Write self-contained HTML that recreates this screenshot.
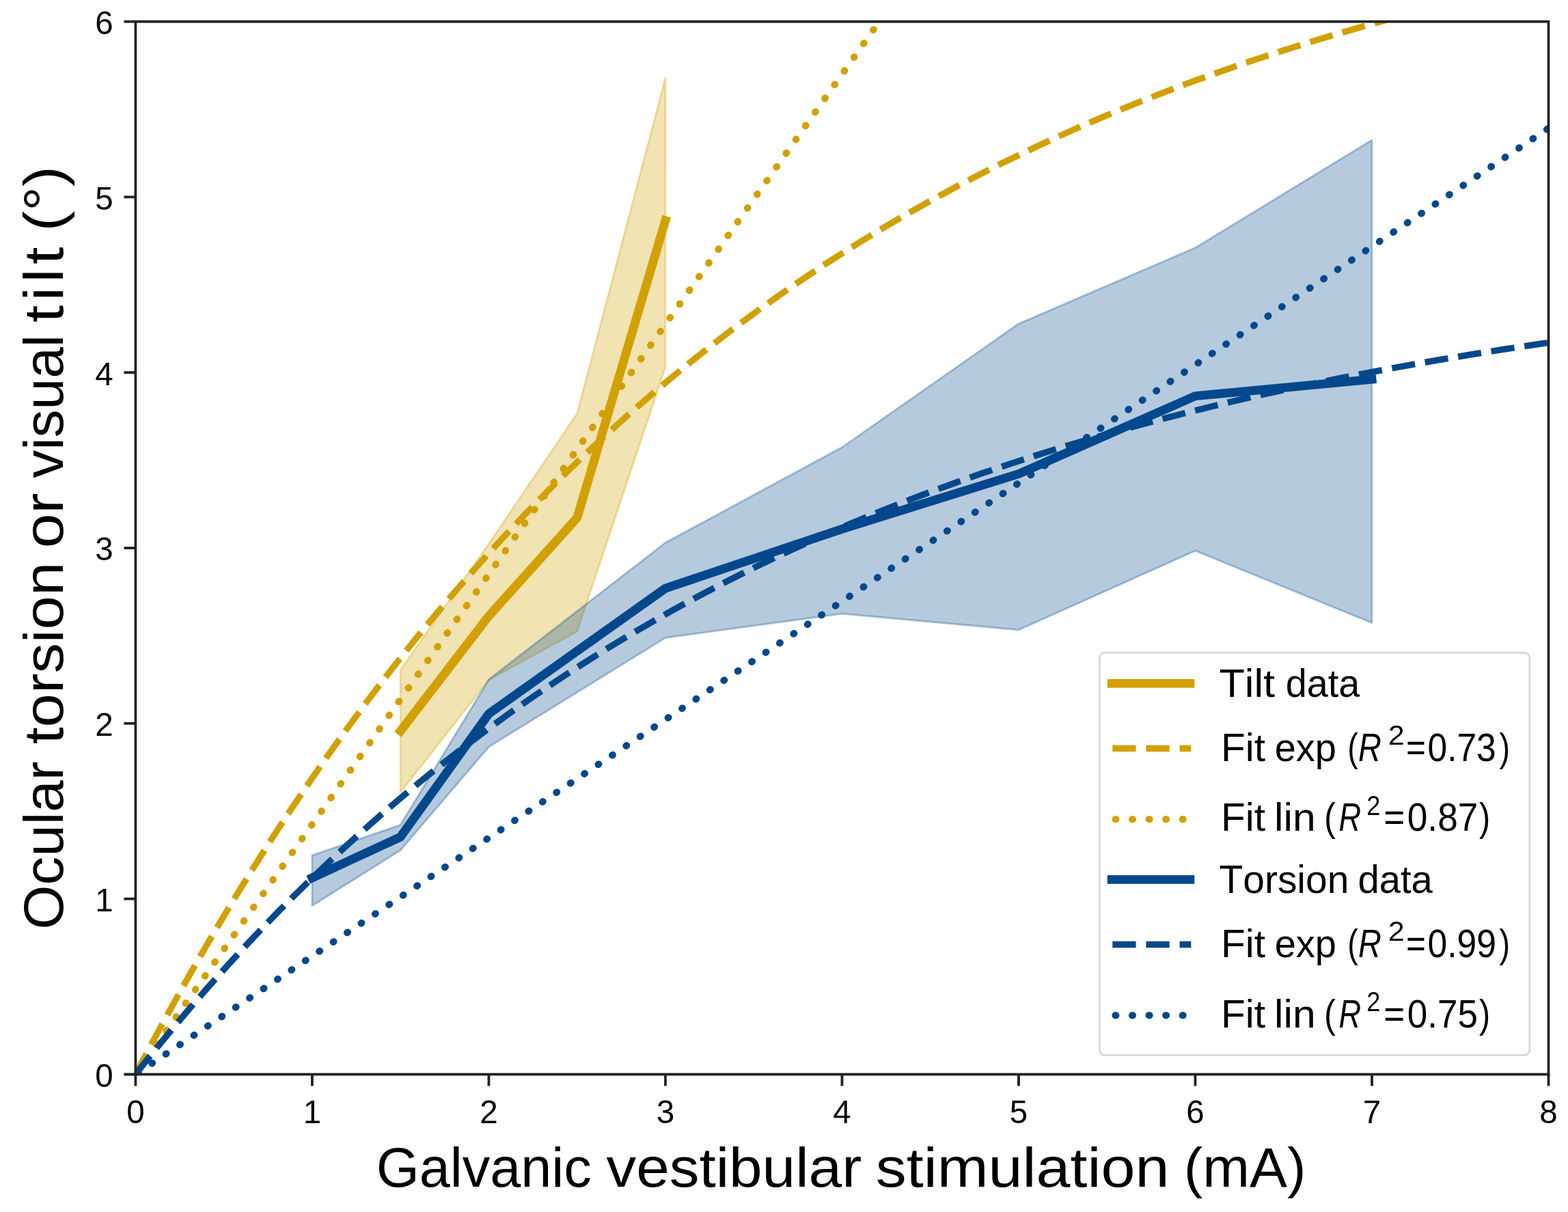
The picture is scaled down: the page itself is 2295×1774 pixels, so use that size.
<!DOCTYPE html><html><head><meta charset="utf-8"><title>Galvanic vestibular stimulation</title><style>html,body{margin:0;padding:0;background:#fff;overflow:hidden;width:2295px;height:1774px;}svg{display:block;}text{font-family:"Liberation Sans",Arial,sans-serif;fill:#000000;font-kerning:none;}</style></head><body><svg width="2295" height="1774" viewBox="0 0 2295 1774"><rect width="2295" height="1774" fill="#fff"/><defs><clipPath id="ax"><rect x="198.4" y="31.6" width="2068.1" height="1540.9"/></clipPath></defs><g clip-path="url(#ax)"><polygon points="586.17,980.28 715.42,795.89 844.68,605.33 973.94,113.78 973.94,537.53 844.68,924.29 715.42,995.18 586.17,1159.8" fill="#D2A100" fill-opacity="0.3" stroke="#D2A100" stroke-opacity="0.3" stroke-width="3" stroke-linejoin="round"/><polygon points="456.91,1251.99 586.17,1207.31 715.42,994.66 973.94,794.35 1232.45,654.64 1490.96,473.84 1749.47,362.64 2007.99,204.95 2007.99,911.71 1749.47,806.16 1490.96,921.98 1232.45,898.36 973.94,933.54 715.42,1093.28 586.17,1244.55 456.91,1325.7" fill="#03488C" fill-opacity="0.29" stroke="#03488C" stroke-opacity="0.29" stroke-width="3" stroke-linejoin="round"/><polyline points="586.17,1069.91 715.42,901.69 844.68,757.88 973.94,322.83" stroke="#D2A100" stroke-width="12.9" stroke-linecap="square" fill="none" stroke-linejoin="round"/><polyline points="198.4,1572.5 211.33,1547.86 224.25,1523.56 237.18,1499.59 250.1,1475.96 263.03,1452.64 275.95,1429.64 288.88,1406.96 301.81,1384.6 314.73,1362.53 327.66,1340.77 340.58,1319.31 353.51,1298.14 366.43,1277.26 379.36,1256.67 392.28,1236.36 405.21,1216.33 418.14,1196.57 431.06,1177.09 443.99,1157.87 456.91,1138.91 469.84,1120.22 482.76,1101.78 495.69,1083.59 508.62,1065.65 521.54,1047.96 534.47,1030.51 547.39,1013.3 560.32,996.33 573.24,979.59 586.17,963.08 599.09,946.79 612.02,930.73 624.95,914.88 637.87,899.26 650.8,883.85 663.72,868.65 676.65,853.66 689.57,838.87 702.5,824.29 715.42,809.9 728.35,795.72 741.28,781.72 754.2,767.92 767.13,754.31 780.05,740.89 792.98,727.65 805.9,714.59 818.83,701.71 831.76,689 844.68,676.47 857.61,664.12 870.53,651.93 883.46,639.91 896.38,628.05 909.31,616.36 922.23,604.82 935.16,593.45 948.09,582.23 961.01,571.16 973.94,560.25 986.86,549.48 999.79,538.86 1012.71,528.39 1025.64,518.06 1038.57,507.88 1051.49,497.83 1064.42,487.92 1077.34,478.15 1090.27,468.51 1103.19,459 1116.12,449.62 1129.05,440.37 1141.97,431.25 1154.9,422.25 1167.82,413.38 1180.75,404.63 1193.67,396 1206.6,387.48 1219.52,379.08 1232.45,370.8 1245.38,362.63 1258.3,354.58 1271.23,346.63 1284.15,338.79 1297.08,331.06 1310,323.44 1322.93,315.92 1335.86,308.5 1348.78,301.19 1361.71,293.97 1374.63,286.86 1387.56,279.84 1400.48,272.92 1413.41,266.09 1426.33,259.36 1439.26,252.72 1452.19,246.17 1465.11,239.71 1478.04,233.33 1490.96,227.05 1503.89,220.85 1516.81,214.74 1529.74,208.71 1542.67,202.76 1555.59,196.9 1568.52,191.11 1581.44,185.41 1594.37,179.78 1607.29,174.23 1620.22,168.75 1633.14,163.35 1646.07,158.03 1659,152.78 1671.92,147.59 1684.85,142.49 1697.77,137.45 1710.7,132.48 1723.62,127.57 1736.55,122.74 1749.47,117.97 1762.4,113.27 1775.33,108.63 1788.25,104.05 1801.18,99.54 1814.1,95.09 1827.03,90.7 1839.95,86.37 1852.88,82.1 1865.81,77.89 1878.73,73.73 1891.66,69.64 1904.58,65.59 1917.51,61.61 1930.43,57.68 1943.36,53.8 1956.28,49.98 1969.21,46.2 1982.14,42.48 1995.06,38.82 2007.99,35.2 2020.91,31.63 2033.84,28.11 2046.76,24.64 2059.69,21.21 2072.62,17.83 2085.54,14.5 2098.47,11.22 2111.39,7.98 2124.32,4.78 2137.24,1.63 2150.17,-1.48 2163.09,-4.55 2176.02,-7.57 2188.95,-10.55 2201.87,-13.49 2214.8,-16.4 2227.72,-19.26 2240.65,-22.08 2253.57,-24.87 2266.5,-27.61" stroke="#D2A100" stroke-width="9.27" stroke-dasharray="34.3 14.83" fill="none" stroke-linejoin="round"/><polyline points="198.4,1572.5 2266.5,-1355.21" stroke="#D2A100" stroke-width="10.30" stroke-dasharray="0.80 23.77" stroke-dashoffset="20.331" stroke-linecap="round" fill="none" stroke-linejoin="round"/><polyline points="456.91,1284.87 586.17,1225.03 715.42,1044.74 973.94,861.12 1232.45,774.31 1490.96,693.67 1749.47,579.65 2007.99,555.25" stroke="#03488C" stroke-width="12.9" stroke-linecap="square" fill="none" stroke-linejoin="round"/><polyline points="198.4,1572.5 211.33,1556.21 224.25,1540.13 237.18,1524.28 250.1,1508.63 263.03,1493.2 275.95,1477.98 288.88,1462.96 301.81,1448.14 314.73,1433.52 327.66,1419.1 340.58,1404.88 353.51,1390.84 366.43,1377 379.36,1363.34 392.28,1349.87 405.21,1336.58 418.14,1323.46 431.06,1310.53 443.99,1297.76 456.91,1285.17 469.84,1272.75 482.76,1260.5 495.69,1248.41 508.62,1236.49 521.54,1224.72 534.47,1213.12 547.39,1201.67 560.32,1190.37 573.24,1179.23 586.17,1168.24 599.09,1157.39 612.02,1146.7 624.95,1136.14 637.87,1125.73 650.8,1115.46 663.72,1105.33 676.65,1095.33 689.57,1085.47 702.5,1075.74 715.42,1066.14 728.35,1056.67 741.28,1047.33 754.2,1038.12 767.13,1029.03 780.05,1020.06 792.98,1011.21 805.9,1002.48 818.83,993.87 831.76,985.38 844.68,977 857.61,968.73 870.53,960.58 883.46,952.53 896.38,944.6 909.31,936.77 922.23,929.04 935.16,921.42 948.09,913.9 961.01,906.49 973.94,899.17 986.86,891.95 999.79,884.83 1012.71,877.81 1025.64,870.88 1038.57,864.04 1051.49,857.3 1064.42,850.64 1077.34,844.08 1090.27,837.61 1103.19,831.22 1116.12,824.92 1129.05,818.7 1141.97,812.57 1154.9,806.51 1167.82,800.55 1180.75,794.66 1193.67,788.85 1206.6,783.12 1219.52,777.46 1232.45,771.89 1245.38,766.38 1258.3,760.96 1271.23,755.6 1284.15,750.32 1297.08,745.11 1310,739.97 1322.93,734.89 1335.86,729.89 1348.78,724.95 1361.71,720.09 1374.63,715.28 1387.56,710.54 1400.48,705.87 1413.41,701.25 1426.33,696.7 1439.26,692.22 1452.19,687.79 1465.11,683.42 1478.04,679.11 1490.96,674.86 1503.89,670.66 1516.81,666.52 1529.74,662.44 1542.67,658.42 1555.59,654.44 1568.52,650.52 1581.44,646.66 1594.37,642.84 1607.29,639.08 1620.22,635.37 1633.14,631.71 1646.07,628.09 1659,624.53 1671.92,621.01 1684.85,617.54 1697.77,614.12 1710.7,610.75 1723.62,607.42 1736.55,604.13 1749.47,600.89 1762.4,597.69 1775.33,594.54 1788.25,591.43 1801.18,588.36 1814.1,585.33 1827.03,582.34 1839.95,579.39 1852.88,576.49 1865.81,573.62 1878.73,570.79 1891.66,568 1904.58,565.24 1917.51,562.52 1930.43,559.84 1943.36,557.2 1956.28,554.59 1969.21,552.02 1982.14,549.48 1995.06,546.97 2007.99,544.5 2020.91,542.07 2033.84,539.66 2046.76,537.29 2059.69,534.95 2072.62,532.64 2085.54,530.36 2098.47,528.12 2111.39,525.9 2124.32,523.71 2137.24,521.56 2150.17,519.43 2163.09,517.33 2176.02,515.26 2188.95,513.21 2201.87,511.2 2214.8,509.21 2227.72,507.25 2240.65,505.31 2253.57,503.4 2266.5,501.52" stroke="#03488C" stroke-width="9.27" stroke-dasharray="34.3 14.83" fill="none" stroke-linejoin="round"/><polyline points="198.4,1572.5 2266.5,187.74" stroke="#03488C" stroke-width="10.30" stroke-dasharray="0.80 23.77" stroke-dashoffset="20.331" stroke-linecap="round" fill="none" stroke-linejoin="round"/></g><rect x="198.4" y="31.6" width="2068.1" height="1540.9" fill="none" stroke="#222222" stroke-width="3.8" stroke-linejoin="miter"/><path d="M198.4 1572.5V1589.5M456.91 1572.5V1589.5M715.42 1572.5V1589.5M973.94 1572.5V1589.5M1232.45 1572.5V1589.5M1490.96 1572.5V1589.5M1749.47 1572.5V1589.5M2007.99 1572.5V1589.5M2266.5 1572.5V1589.5M198.4 1572.5H181.4M198.4 1315.68H181.4M198.4 1058.87H181.4M198.4 802.05H181.4M198.4 545.23H181.4M198.4 288.42H181.4M198.4 31.6H181.4" stroke="#222222" stroke-width="3.8" fill="none"/><text x="198.4" y="1643.5" font-size="47.5" text-anchor="middle">0</text><text x="456.91" y="1643.5" font-size="47.5" text-anchor="middle">1</text><text x="715.42" y="1643.5" font-size="47.5" text-anchor="middle">2</text><text x="973.94" y="1643.5" font-size="47.5" text-anchor="middle">3</text><text x="1232.45" y="1643.5" font-size="47.5" text-anchor="middle">4</text><text x="1490.96" y="1643.5" font-size="47.5" text-anchor="middle">5</text><text x="1749.47" y="1643.5" font-size="47.5" text-anchor="middle">6</text><text x="2007.99" y="1643.5" font-size="47.5" text-anchor="middle">7</text><text x="2266.5" y="1643.5" font-size="47.5" text-anchor="middle">8</text><text x="165.7" y="1590.8" font-size="47.5" text-anchor="end">0</text><text x="165.7" y="1333.98" font-size="47.5" text-anchor="end">1</text><text x="165.7" y="1077.17" font-size="47.5" text-anchor="end">2</text><text x="165.7" y="820.35" font-size="47.5" text-anchor="end">3</text><text x="165.7" y="563.53" font-size="47.5" text-anchor="end">4</text><text x="165.7" y="306.72" font-size="47.5" text-anchor="end">5</text><text x="165.7" y="49.9" font-size="47.5" text-anchor="end">6</text><text font-size="82"><tspan x="550.73" y="1737.2" textLength="315.11" lengthAdjust="spacingAndGlyphs">Galvanic</tspan> <tspan x="887.5" y="1737.2" textLength="373.75" lengthAdjust="spacingAndGlyphs">vestibular</tspan> <tspan x="1281.8" y="1737.2" textLength="429.64" lengthAdjust="spacingAndGlyphs">stimulation</tspan> <tspan x="1732.78" y="1737.2" textLength="178.73" lengthAdjust="spacingAndGlyphs">(mA)</tspan></text><text font-size="82" transform="rotate(-90)"><tspan x="-1360.46" y="92.2" textLength="246.04" lengthAdjust="spacingAndGlyphs">Ocular</tspan> <tspan x="-1089.04" y="92.2" textLength="266.3" lengthAdjust="spacingAndGlyphs">torsion</tspan> <tspan x="-802.32" y="92.2" textLength="80.93" lengthAdjust="spacingAndGlyphs">or</tspan> <tspan x="-699.78" y="92.2" textLength="209.77" lengthAdjust="spacingAndGlyphs">visual</tspan> <tspan x="-472.29" y="92.2" textLength="117.2" lengthAdjust="spacingAndGlyphs" letter-spacing="5.66">tilt</tspan> <tspan x="-338.54" y="92.2" textLength="95.17" lengthAdjust="spacingAndGlyphs">(°)</tspan></text><rect x="1609.4" y="955.3" width="629.4" height="589.1" rx="7.5" ry="7.5" fill="#fff" fill-opacity="0.8" stroke="#d8d8d8" stroke-width="2.8"/><path d="M1627.2 1000.4H1741.8" stroke="#D2A100" stroke-width="12.9" stroke-linecap="square"/><text font-size="58"><tspan x="1784.42" y="1020.4" textLength="81.62" lengthAdjust="spacingAndGlyphs">Tilt</tspan> <tspan x="1881.66" y="1020.4" textLength="108.64" lengthAdjust="spacingAndGlyphs">data</tspan></text><path d="M1628.3 1095.5H1743.3" stroke="#D2A100" stroke-width="9.27" stroke-dasharray="34.3 14.83"/><text font-size="58"><tspan x="1787.01" y="1113.6" textLength="64.92" lengthAdjust="spacingAndGlyphs">Fit</tspan> <tspan x="1865.72" y="1113.6" textLength="90.23" lengthAdjust="spacingAndGlyphs">exp</tspan> <tspan x="1972.32" y="1113.6" textLength="15.45" lengthAdjust="spacingAndGlyphs">(</tspan><tspan x="1988.06" y="1113.6" textLength="33.89" lengthAdjust="spacingAndGlyphs" font-style="italic">R</tspan><tspan x="2031.74" y="1090.1" textLength="23.93" lengthAdjust="spacingAndGlyphs" font-size="41">2</tspan><tspan x="2058.09" y="1113.6" textLength="28.85" lengthAdjust="spacingAndGlyphs">=</tspan><tspan x="2089.59" y="1113.6" textLength="100.17" lengthAdjust="spacingAndGlyphs">0.73</tspan><tspan x="2194.43" y="1113.6" textLength="15.57" lengthAdjust="spacingAndGlyphs">)</tspan></text><path d="M1628.3 1199.2H1743.3" stroke="#D2A100" stroke-width="10.30" stroke-dasharray="0.80 23.77" stroke-dashoffset="20.331" stroke-linecap="round"/><text font-size="58"><tspan x="1787" y="1216.2" textLength="65.03" lengthAdjust="spacingAndGlyphs">Fit</tspan> <tspan x="1865.02" y="1216.2" textLength="60.62" lengthAdjust="spacingAndGlyphs">lin</tspan> <tspan x="1938.07" y="1216.2" textLength="16.83" lengthAdjust="spacingAndGlyphs">(</tspan><tspan x="1959.41" y="1216.2" textLength="32.68" lengthAdjust="spacingAndGlyphs" font-style="italic">R</tspan><tspan x="2000.18" y="1192.7" textLength="20.14" lengthAdjust="spacingAndGlyphs" font-size="41">2</tspan><tspan x="2025.22" y="1216.2" textLength="30.89" lengthAdjust="spacingAndGlyphs">=</tspan><tspan x="2059.72" y="1216.2" textLength="103.66" lengthAdjust="spacingAndGlyphs">0.87</tspan><tspan x="2165.01" y="1216.2" textLength="16.2" lengthAdjust="spacingAndGlyphs">)</tspan></text><path d="M1627.2 1287.4H1741.8" stroke="#03488C" stroke-width="12.9" stroke-linecap="square"/><text font-size="58"><tspan x="1784.52" y="1307.1" textLength="189.77" lengthAdjust="spacingAndGlyphs">Torsion</tspan> <tspan x="1987.44" y="1307.1" textLength="109.36" lengthAdjust="spacingAndGlyphs">data</tspan></text><path d="M1628.3 1382.5H1743.3" stroke="#03488C" stroke-width="9.27" stroke-dasharray="34.3 14.83"/><text font-size="58"><tspan x="1787.01" y="1400.6" textLength="64.92" lengthAdjust="spacingAndGlyphs">Fit</tspan> <tspan x="1865.72" y="1400.6" textLength="90.23" lengthAdjust="spacingAndGlyphs">exp</tspan> <tspan x="1972.32" y="1400.6" textLength="15.45" lengthAdjust="spacingAndGlyphs">(</tspan><tspan x="1988.06" y="1400.6" textLength="33.89" lengthAdjust="spacingAndGlyphs" font-style="italic">R</tspan><tspan x="2031.74" y="1377.1" textLength="23.93" lengthAdjust="spacingAndGlyphs" font-size="41">2</tspan><tspan x="2058.09" y="1400.6" textLength="28.85" lengthAdjust="spacingAndGlyphs">=</tspan><tspan x="2089.59" y="1400.6" textLength="100.36" lengthAdjust="spacingAndGlyphs">0.99</tspan><tspan x="2194.43" y="1400.6" textLength="15.57" lengthAdjust="spacingAndGlyphs">)</tspan></text><path d="M1628.3 1486.2H1743.3" stroke="#03488C" stroke-width="10.30" stroke-dasharray="0.80 23.77" stroke-dashoffset="20.331" stroke-linecap="round"/><text font-size="58"><tspan x="1787" y="1503.8" textLength="65.03" lengthAdjust="spacingAndGlyphs">Fit</tspan> <tspan x="1865.02" y="1503.8" textLength="60.62" lengthAdjust="spacingAndGlyphs">lin</tspan> <tspan x="1938.07" y="1503.8" textLength="16.83" lengthAdjust="spacingAndGlyphs">(</tspan><tspan x="1959.41" y="1503.8" textLength="32.68" lengthAdjust="spacingAndGlyphs" font-style="italic">R</tspan><tspan x="2000.18" y="1480.3" textLength="20.14" lengthAdjust="spacingAndGlyphs" font-size="41">2</tspan><tspan x="2025.22" y="1503.8" textLength="30.89" lengthAdjust="spacingAndGlyphs">=</tspan><tspan x="2059.73" y="1503.8" textLength="103.2" lengthAdjust="spacingAndGlyphs">0.75</tspan><tspan x="2165.01" y="1503.8" textLength="16.2" lengthAdjust="spacingAndGlyphs">)</tspan></text></svg></body></html>
